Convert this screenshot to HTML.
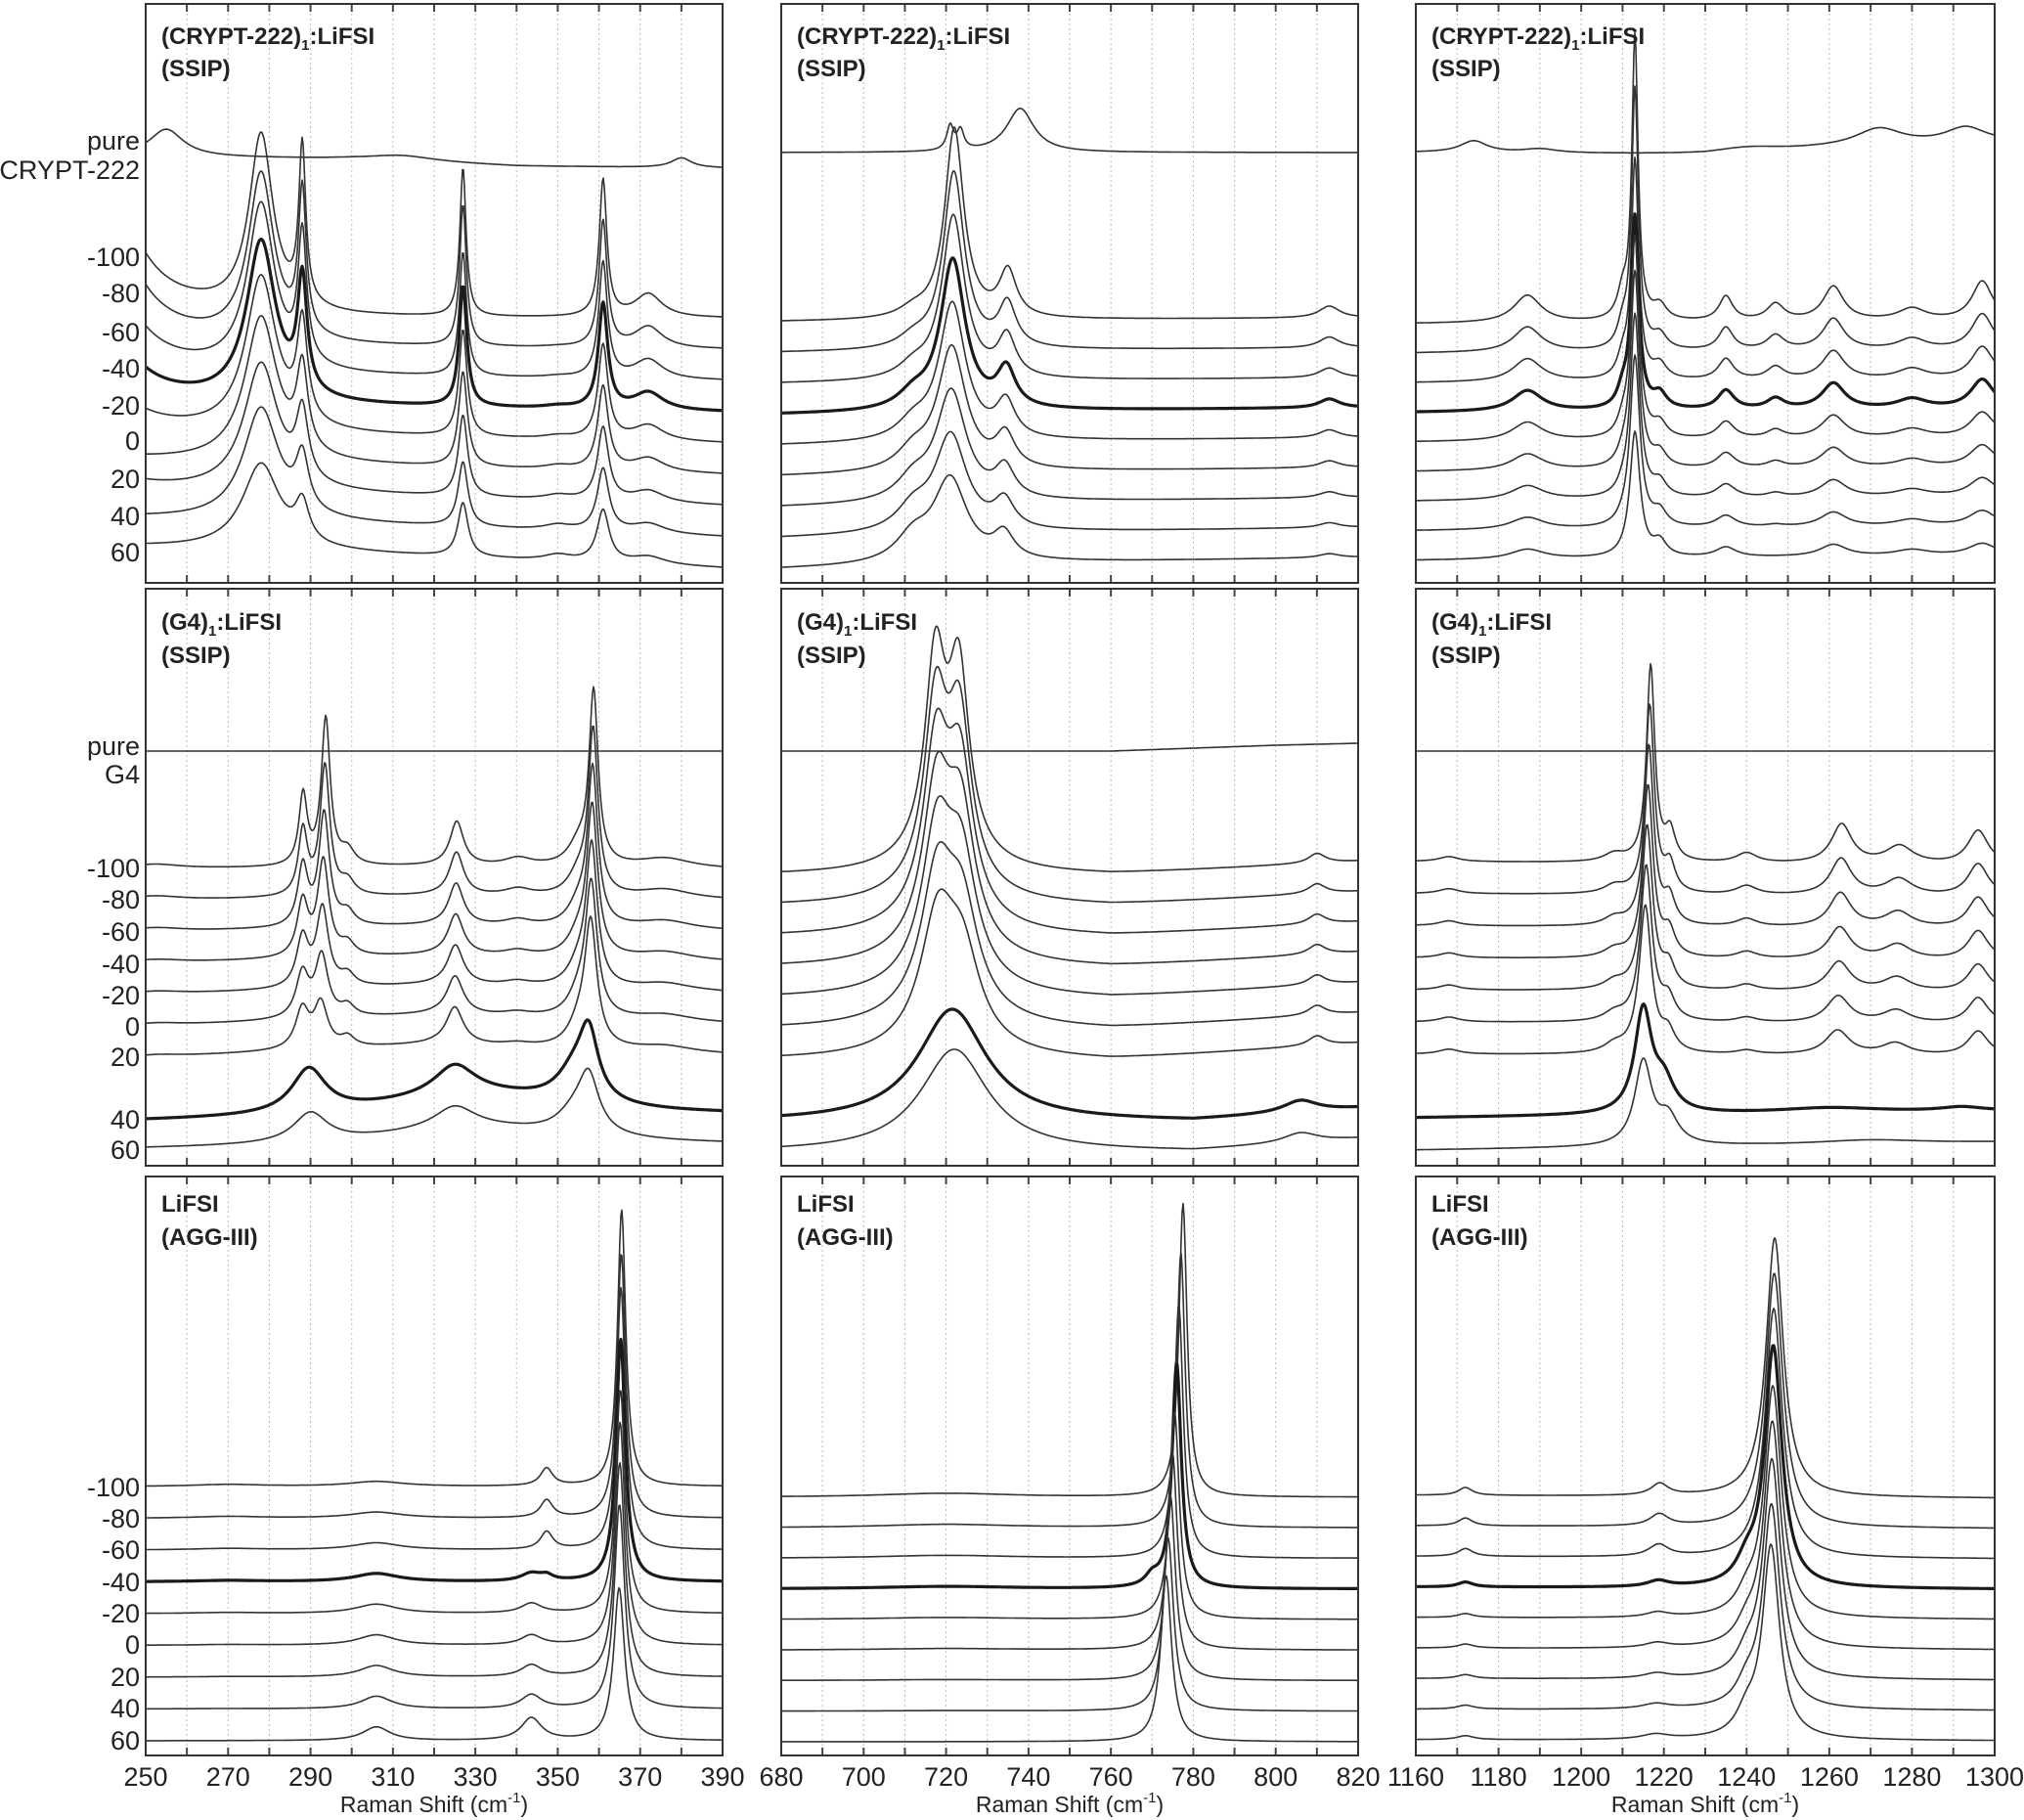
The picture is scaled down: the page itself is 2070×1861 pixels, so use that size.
<!DOCTYPE html>
<html><head><meta charset="utf-8"><style>
html,body{margin:0;padding:0;background:#fff;}
svg{display:block;}
text{font-family:"Liberation Sans",Arial,sans-serif;fill:#222;}
</style></head><body>
<svg id="s" width="2070" height="1861" viewBox="0 0 2070 1861" xmlns="http://www.w3.org/2000/svg">
<rect width="2070" height="1861" fill="#fff"/>
<g id="g"></g>
<g font-size="27" text-anchor="end">
<text x="143" y="153">pure</text><text x="143" y="183">CRYPT-222</text>
<text x="143" y="272">-100</text><text x="143" y="309">-80</text><text x="143" y="349">-60</text><text x="143" y="386">-40</text><text x="143" y="424">-20</text><text x="143" y="460">0</text><text x="143" y="499">20</text><text x="143" y="537">40</text><text x="143" y="574">60</text>
<text x="143" y="772">pure</text><text x="143" y="801">G4</text>
<text x="143" y="897">-100</text><text x="143" y="929">-80</text><text x="143" y="962">-60</text><text x="143" y="995">-40</text><text x="143" y="1027">-20</text><text x="143" y="1059">0</text><text x="143" y="1090">20</text><text x="143" y="1154">40</text><text x="143" y="1185">60</text>
<text x="143" y="1530">-100</text><text x="143" y="1562">-80</text><text x="143" y="1594">-60</text><text x="143" y="1627">-40</text><text x="143" y="1659">-20</text><text x="143" y="1691">0</text><text x="143" y="1724">20</text><text x="143" y="1756">40</text><text x="143" y="1789">60</text>
</g>
<g font-size="24" font-weight="bold">
<text x="165" y="45">(CRYPT-222)<tspan font-size="15" dy="6">1</tspan><tspan dy="-6">:LiFSI</tspan></text><text x="165" y="78">(SSIP)</text>
<text x="815" y="45">(CRYPT-222)<tspan font-size="15" dy="6">1</tspan><tspan dy="-6">:LiFSI</tspan></text><text x="815" y="78">(SSIP)</text>
<text x="1464" y="45">(CRYPT-222)<tspan font-size="15" dy="6">1</tspan><tspan dy="-6">:LiFSI</tspan></text><text x="1464" y="78">(SSIP)</text>
<text x="165" y="644">(G4)<tspan font-size="15" dy="6">1</tspan><tspan dy="-6">:LiFSI</tspan></text><text x="165" y="678">(SSIP)</text>
<text x="815" y="644">(G4)<tspan font-size="15" dy="6">1</tspan><tspan dy="-6">:LiFSI</tspan></text><text x="815" y="678">(SSIP)</text>
<text x="1464" y="644">(G4)<tspan font-size="15" dy="6">1</tspan><tspan dy="-6">:LiFSI</tspan></text><text x="1464" y="678">(SSIP)</text>
<text x="165" y="1239">LiFSI</text><text x="165" y="1273">(AGG-III)</text>
<text x="815" y="1239">LiFSI</text><text x="815" y="1273">(AGG-III)</text>
<text x="1464" y="1239">LiFSI</text><text x="1464" y="1273">(AGG-III)</text>
</g>
<g id="xl" font-size="27" text-anchor="middle"></g>
<g font-size="23" text-anchor="middle">
<text x="444" y="1853">Raman Shift (cm<tspan font-size="15" dy="-10">-1</tspan><tspan dy="10">)</tspan></text>
<text x="1094" y="1853">Raman Shift (cm<tspan font-size="15" dy="-10">-1</tspan><tspan dy="10">)</tspan></text>
<text x="1744" y="1853">Raman Shift (cm<tspan font-size="15" dy="-10">-1</tspan><tspan dy="10">)</tspan></text>
</g>
</svg>
<script>
var NS="http://www.w3.org/2000/svg";
var G=document.getElementById("g"),XL=document.getElementById("xl");
function el(t,a,p){var e=document.createElementNS(NS,t);for(var k in a)e.setAttribute(k,a[k]);(p||G).appendChild(e);return e;}
function L(a,b,t){return a+(b-a)*t;}
var cols=[{px0:149,px1:739,x0:250,x1:390},{px0:799,px1:1389,x0:680,x1:820},{px0:1448,px1:2040,x0:1160,x1:1300}];
var rows=[{py0:4,py1:596},{py0:602,py1:1192},{py0:1203,py1:1795}];
function gv(h,i,n,t){if(typeof h==="number")return h;if(h.length===2&&n!==2)return L(h[0],h[1],t);return h[i];}
function draw(c,r,groups,idx){
  var cid="c"+idx;
  var cp=el("clipPath",{id:cid});el("rect",{x:c.px0,y:r.py0,width:c.px1-c.px0,height:r.py1-r.py0},cp);
  for(var v=c.x0+10;v<c.x1;v+=10){var X=c.px0+(v-c.x0)/(c.x1-c.x0)*(c.px1-c.px0);
    el("line",{x1:X,x2:X,y1:r.py0,y2:r.py1,stroke:"#bbb","stroke-width":1,"stroke-dasharray":"2,3"});
    el("line",{x1:X,x2:X,y1:r.py0,y2:r.py0+8,stroke:"#444","stroke-width":2});
    el("line",{x1:X,x2:X,y1:r.py1-8,y2:r.py1,stroke:"#444","stroke-width":2});}
  var gg=el("g",{"clip-path":"url(#"+cid+")"});
  groups.forEach(function(gr){
    for(var i=0;i<gr.n;i++){var t=gr.n>1?i/(gr.n-1):0;
      var bp=gr.base.map(function(b){return [b[0],b[2]===undefined?b[1]:L(b[1],b[2],t)];});
      var pk=gr.peaks.map(function(p){return [L(p[0],p[1],t),gv(p[2],i,gr.n,t),L(p[3],p[4]===undefined?p[3]:p[4],t)];});
      var d="";
      for(var px=c.px0;px<=c.px1;px+=1){var x=c.x0+(px-c.px0)/(c.px1-c.px0)*(c.x1-c.x0);
        var y=bp[0][1];
        for(var k=0;k<bp.length-1;k++){if(x>=bp[k][0]&&x<=bp[k+1][0]){y=L(bp[k][1],bp[k+1][1],(x-bp[k][0])/(bp[k+1][0]-bp[k][0]));}}
        if(x>bp[bp.length-1][0])y=bp[bp.length-1][1];
        for(var j=0;j<pk.length;j++){var q=(x-pk[j][0])/pk[j][2];y-=pk[j][1]/(1+q*q);}
        d+=(px===c.px0?"M":"L")+px+","+y.toFixed(1);}
      var th=(gr.thick===i);
      el("path",{d:d,fill:"none",stroke:th?"#1a1a1a":"#333","stroke-width":th?3.2:1.6,"stroke-linejoin":"round"},gg);}
  });
  el("rect",{x:c.px0,y:r.py0,width:c.px1-c.px0,height:r.py1-r.py0,fill:"none",stroke:"#333","stroke-width":2});
}
var P=[
[{n:1,base:[[250,160],[300,163],[340,170],[390,172]],peaks:[[255,255,28,5],[312,312,6,10],[380,380,10,3]]},
 {n:9,thick:3,base:[[250,322,559],[300,326,566],[390,326,581]],peaks:[
 [238,238,[198,188,146,104,62,5,20,0,0],8,8],[278,278,[180,170,170,163,158,148,130,115,88],3.5,5.5],
 [288,288,[160,39],1,2],[327,327,[152,145,127,123,109,97,83,66,55],0.9,1.5],[361,361,[140,53],1.1,1.8],[372,372,[24,8],4,5],[350,350,[0,6],4,4]]}],
[{n:1,base:[[680,156],[820,156]],peaks:[[721,721,25,1],[723.5,723.5,20,1],[738,738,45,4]]},
 {n:9,thick:3,base:[[680,329,582],[750,327,575],[820,325,570]],peaks:[[712,712,[8,25],4,5],[722,721,[195,85],2.8,5],[735,734,[47,26],2.5,3],[813,813,[12,4],3,3]]}],
[{n:1,base:[[1160,156],[1230,158],[1260,152],[1300,146]],peaks:[[1174,1174,12,4],[1190,1190,4,5],[1240,1240,5,10],[1272,1272,18,7],[1293,1293,16,6]]},
 {n:9,thick:3,base:[[1160,331,573],[1300,328,568]],peaks:[[1187,1187,[28,10],4,5],[1210,1210,[25,0],1.5],[1213,1213,[289,265,223,196,205,200,187,175,128],0.9,1.5],[1219,1219,15,2],[1235,1235,[25,10],2,3],[1247,1247,[17,0],2.5],[1261,1261,[35,12],3,4],[1280,1280,[12,6],4,5],[1297,1297,[40,12],3,4]]}],
[{n:1,base:[[250,768],[390,768]],peaks:[]},
 {n:7,base:[[250,889,1082],[320,886,1068],[390,889,1078]],peaks:[[252,252,[5,3],8,8],[288.2,288,[72,40],1.2,2],[293.7,292.5,[150,45],1.3,2],[299,299,[15,10],2,2],[325.5,325,[45,38],2,2.5],[340.4,340,[8,3],4,4],[355,355,[20,20],3,3],[358.7,358,[175,125],1.3,1.8],[376,376,[10,6],8,8]]},
 {n:1,thick:0,base:[[250,1148],[390,1142]],peaks:[[289.6,289.6,45,5],[325,325,30,6],[330,330,25,30],[354,354,30,5],[357.5,357.5,65,2.8]]},
 {n:1,base:[[250,1176],[390,1172]],peaks:[[290,290,30,5],[325,325,22,6],[330,330,20,30],[354,354,20,5],[357.5,357.5,55,3]]}],
[{n:1,base:[[680,768],[760,768],[800,762],[820,760]],peaks:[]},
 {n:7,base:[[680,895,1084],[760,895,1085],[820,881,1067]],peaks:[[717.4,718,[195,120],3,5],[723.1,724,[180,80],3,5],[720,720,20,12],[810,810,10,2.5]]},
 {n:1,thick:0,base:[[680,1147],[780,1147],[820,1134]],peaks:[[721.5,721.5,115,10],[806,806,12,5]]},
 {n:1,base:[[680,1178],[780,1178],[820,1165]],peaks:[[722,722,105,10],[806,806,10,5]]}],
[{n:1,base:[[1160,768],[1300,768]],peaks:[]},
 {n:7,base:[[1160,881,1078],[1300,885,1080]],peaks:[[1168,1168,5,3],[1208,1208,8,3],[1216.8,1215.5,[200,150],1.2,1.8],[1221.5,1221,[30,20],1.5,2],[1240,1240,[10,4],3],[1263,1262,[40,25],3,3.5],[1277,1276,[18,12],4],[1296,1296,[35,25],3]]},
 {n:1,thick:0,base:[[1160,1143],[1300,1136]],peaks:[[1215,1215,105,2.5],[1220,1220,30,3],[1260,1260,5,15],[1292,1292,4,6]]},
 {n:1,base:[[1160,1176],[1300,1168]],peaks:[[1215,1215,85,2.5],[1221,1221,28,3],[1270,1270,4,15]]}],
[{n:9,thick:3,base:[[250,1520,1780],[390,1520,1780]],peaks:[[365.5,364.9,[283,271,268,248,229,228,219,209,156],1.2,1.6],[347.3,347.3,[18,18,18,5,0,0,0,0,0],1.8],[343.6,343.6,[0,0,0,8,10,10,12,14,23],3],[306,306,[5,14],8,4],[270,270,[2,0],10]]}],
[{n:9,thick:3,base:[[680,1531,1781],[820,1531,1781]],peaks:[[777.5,773.4,[300,281,260,230,212,202,190,177,170],1.2,1.6],[720,720,[4,0],20],[770,770,[0,0,0,10,0,0,0,0,0],2]]}],
[{n:9,thick:3,base:[[1160,1529,1779],[1300,1532,1780]],peaks:[[1246.8,1245.9,[265,260,255,245,235,230,222,207,196],2.5],[1240,1240,[0,0,0,20,18,18,20,20,22],3],[1172,1172,[8,8,8,5,4,4,4,4,4],2,2.5],[1219,1218,[12,12,12,6,5,5,5,5,5],2.5,4]]}]
];
for(var r=0;r<3;r++)for(var c=0;c<3;c++)draw(cols[c],rows[r],P[r*3+c],r*3+c);
cols.forEach(function(c){for(var v=c.x0;v<=c.x1;v+=20){var X=c.px0+(v-c.x0)/(c.x1-c.x0)*(c.px1-c.px0);var t=el("text",{x:X,y:1826},XL);t.textContent=v;}});
</script>
</body></html>
